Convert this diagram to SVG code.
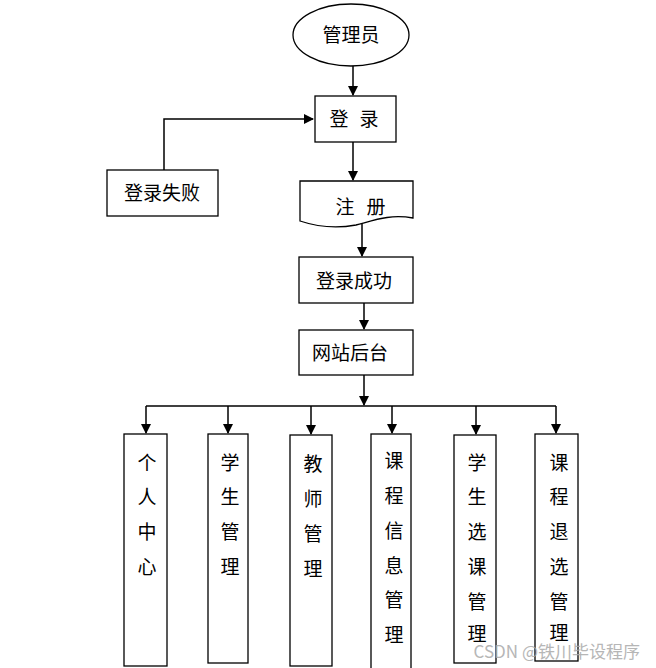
<svg xmlns="http://www.w3.org/2000/svg" width="656" height="668" viewBox="0 0 656 668">
<defs>
<marker id="ar" markerWidth="10" markerHeight="10" refX="9" refY="5" orient="auto" markerUnits="userSpaceOnUse"><path d="M0,0 L10,5 L0,10 Z" fill="#000"/></marker>
<style>
.s{fill:#fff;stroke:#000;stroke-width:1.3}
.t{font-family:"Noto Sans CJK SC","Liberation Sans",sans-serif;font-size:19px;fill:#000;text-anchor:middle}
.c{fill:none;stroke:#000;stroke-width:1.5}
</style>
</defs>
<rect width="656" height="668" fill="#fff"/>
<g id="connectors">
<path class="c" d="M353,66 V95" marker-end="url(#ar)"/>
<path class="c" d="M353,142 V180" marker-end="url(#ar)"/>
<path class="c" d="M362,224 V256" marker-end="url(#ar)"/>
<path class="c" d="M364,303 V329" marker-end="url(#ar)"/>
<path class="c" d="M364,375 V405" marker-end="url(#ar)"/>
<path class="c" d="M164,170 V119 H313" marker-end="url(#ar)"/>
<path class="c" d="M146,406 H556"/>
<path class="c" d="M146,406 V433" marker-end="url(#ar)"/>
<path class="c" d="M228,406 V433" marker-end="url(#ar)"/>
<path class="c" d="M311,406 V434" marker-end="url(#ar)"/>
<path class="c" d="M392,406 V433" marker-end="url(#ar)"/>
<path class="c" d="M476,406 V434" marker-end="url(#ar)"/>
<path class="c" d="M556,406 V433" marker-end="url(#ar)"/>
</g>
<g id="admin"><ellipse class="s" cx="351" cy="35" rx="58" ry="31"/><text class="t" x="351" y="42">管理员</text></g>
<g id="login"><rect class="s" x="315" y="96" width="81" height="46"/><text class="t"><tspan x="339" y="126">登</tspan><tspan x="369" y="126">录</tspan></text></g>
<g id="fail"><rect class="s" x="107" y="170" width="111" height="46"/><text class="t" x="162" y="200">登录失败</text></g>
<g id="register"><path class="s" d="M300,181 H413 V218 C390,214 375,220 356,225 C335,229 318,227 300,221 Z"/><text class="t"><tspan x="345" y="214">注</tspan><tspan x="376" y="214">册</tspan></text></g>
<g id="success"><rect class="s" x="299" y="257" width="114" height="46"/><text class="t" x="354" y="288">登录成功</text></g>
<g id="backend"><rect class="s" x="299" y="330" width="114" height="45"/><text class="t" x="350" y="360">网站后台</text></g>
<g id="n1"><rect class="s" x="124" y="434" width="43" height="232"/><text class="t"><tspan x="147" y="470">个</tspan><tspan x="147" y="504">人</tspan><tspan x="147" y="539">中</tspan><tspan x="147" y="574">心</tspan></text></g>
<g id="n2"><rect class="s" x="208" y="434" width="40" height="229"/><text class="t"><tspan x="230" y="470">学</tspan><tspan x="230" y="504">生</tspan><tspan x="230" y="539">管</tspan><tspan x="230" y="574">理</tspan></text></g>
<g id="n3"><rect class="s" x="290" y="435" width="42" height="231"/><text class="t"><tspan x="313" y="471">教</tspan><tspan x="313" y="506">师</tspan><tspan x="313" y="541">管</tspan><tspan x="313" y="576">理</tspan></text></g>
<g id="n4"><rect class="s" x="371" y="434" width="40" height="236"/><text class="t"><tspan x="394" y="468">课</tspan><tspan x="394" y="503">程</tspan><tspan x="394" y="538">信</tspan><tspan x="394" y="573">息</tspan><tspan x="394" y="607">管</tspan><tspan x="394" y="642">理</tspan></text></g>
<g id="n5"><rect class="s" x="454" y="435" width="42" height="228"/><text class="t"><tspan x="477" y="470">学</tspan><tspan x="477" y="504">生</tspan><tspan x="477" y="539">选</tspan><tspan x="477" y="574">课</tspan><tspan x="477" y="609">管</tspan><tspan x="477" y="641">理</tspan></text></g>
<g id="n6"><rect class="s" x="535" y="434" width="43" height="227"/><text class="t"><tspan x="559" y="470">课</tspan><tspan x="559" y="504">程</tspan><tspan x="559" y="539">退</tspan><tspan x="559" y="574">选</tspan><tspan x="559" y="609">管</tspan><tspan x="559" y="640">理</tspan></text></g>
<text x="640" y="658" text-anchor="end" style="font-family:'Noto Sans CJK SC','Liberation Sans',sans-serif;font-size:17px;fill:#aaa;opacity:0.85">CSDN @铁川毕设程序</text>
</svg>
